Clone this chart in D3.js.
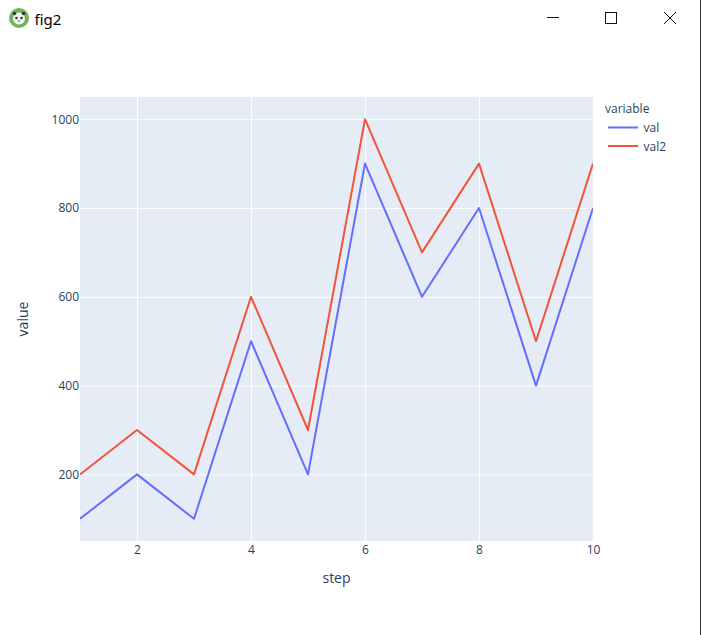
<!DOCTYPE html>
<html>
<head>
<meta charset="utf-8">
<title>fig2</title>
<script src="https://cdn.jsdelivr.net/npm/d3@7"></script>
<style>
    html, body { margin: 0; padding: 0; background: #fff; overflow: hidden; }
    text { font-family: "Open Sans", sans-serif; }
</style>
</head>
<body>
<div id="chart"></div>
<script>
const steps = [1, 2, 3, 4, 5, 6, 7, 8, 9, 10];
const val = [100, 200, 100, 500, 200, 900, 600, 800, 400, 800];
const val2 = [200, 300, 200, 600, 300, 1000, 700, 900, 500, 900];
const series_names = ["val", "val2"];
const series_colors = ["#636efa", "#EF553B"];
const x_ticks = [2, 4, 6, 8, 10];
const y_ticks = [200, 400, 600, 800, 1000];

const width = 701, height = 635;
const plot = {left: 80, right: 593, top: 97, bottom: 541};
const text_color = "#2a3f5f";

let svg = d3.select("#chart").append("svg")
    .attr("width", width)
    .attr("height", height)
    .style("display", "block");

// window frame
svg.append("line")
    .attr("x1", 700.5).attr("x2", 700.5)
    .attr("y1", 0).attr("y2", height)
    .style("stroke", "#333").style("stroke-width", 1);

// title bar icon
let icon = svg.append("g").attr("transform", "translate(19,18)");
icon.append("circle").attr("r", 10).style("fill", "#6fb35a");
icon.append("circle").attr("r", 6).attr("cy", 0.5).style("fill", "#f4f4f4");
[[-4.5, -4.5, 1.8], [4.5, -4.5, 1.8], [-2.5, 0, 1.3], [2.5, 0, 1.3], [0, 3, 0.8]].forEach(function(d) {
    icon.append("circle").attr("cx", d[0]).attr("cy", d[1]).attr("r", d[2]).style("fill", "#333");
});
svg.append("text")
    .attr("x", 34.5).attr("y", 24.5)
    .text("fig2")
    .style("font-family", "'Noto Sans', sans-serif")
    .style("font-size", "15px")
    .style("fill", "#000");

// title bar buttons
let btn = svg.append("g").style("stroke", "#111").style("stroke-width", 1).style("fill", "none");
btn.append("line").attr("x1", 547).attr("x2", 559).attr("y1", 17.5).attr("y2", 17.5);
btn.append("rect").attr("x", 605.5).attr("y", 12.5).attr("width", 11).attr("height", 11);
btn.append("line").attr("x1", 664).attr("x2", 676).attr("y1", 12).attr("y2", 24);
btn.append("line").attr("x1", 676).attr("x2", 664).attr("y1", 12).attr("y2", 24);

let x = d3.scaleLinear().domain([1, 10]).range([plot.left, plot.right]);
let y = d3.scaleLinear().domain([50, 1050]).range([plot.bottom, plot.top]);

svg.append("rect")
    .attr("x", plot.left).attr("y", plot.top)
    .attr("width", plot.right - plot.left)
    .attr("height", plot.bottom - plot.top)
    .style("fill", "#e5ecf6");

// axes, the tick lines stretched over the plot act as grid
let x_axis = svg.append("g")
    .attr("transform", "translate(0," + plot.bottom + ")")
    .call(d3.axisBottom(x).tickValues(x_ticks).tickFormat(d3.format("d")).tickSize(plot.bottom - plot.top).tickPadding(0));
x_axis.selectAll(".tick line").attr("y2", -(plot.bottom - plot.top));
x_axis.selectAll(".tick text").attr("y", 4.5);

let y_axis = svg.append("g")
    .attr("transform", "translate(" + plot.left + ",0)")
    .call(d3.axisLeft(y).tickValues(y_ticks).tickFormat(d3.format("d")).tickSize(plot.right - plot.left).tickPadding(0));
y_axis.selectAll(".tick line").attr("x2", plot.right - plot.left);
y_axis.selectAll(".tick text").attr("x", -1);

[x_axis, y_axis].forEach(function(axis) {
    axis.select(".domain").remove();
    axis.selectAll(".tick line").style("stroke", "#fff").style("stroke-width", 1);
    axis.selectAll(".tick text")
        .style("font-family", "'Open Sans', sans-serif")
        .style("font-size", "12px")
        .style("fill", text_color);
});

// lines
let line = d3.line()
    .x(function(d, i) { return x(steps[i]); })
    .y(function(d) { return y(d); });

let clip = svg.append("clipPath").attr("id", "plot_clip").append("rect")
    .attr("x", plot.left).attr("y", plot.top)
    .attr("width", plot.right - plot.left)
    .attr("height", plot.bottom - plot.top);

[val, val2].forEach(function(values, i) {
    svg.append("path")
        .datum(values)
        .attr("d", line)
        .attr("clip-path", "url(#plot_clip)")
        .style("fill", "none")
        .style("stroke", series_colors[i])
        .style("stroke-width", 2)
        .style("stroke-linejoin", "round");
});

// axis titles
svg.append("text")
    .attr("x", (plot.left + plot.right) / 2).attr("y", 583)
    .attr("text-anchor", "middle")
    .text("step")
    .style("font-size", "14px").style("fill", text_color);

svg.append("text")
    .attr("transform", "translate(28," + (plot.top + plot.bottom) / 2 + ") rotate(-90)")
    .attr("text-anchor", "middle")
    .text("value")
    .style("font-size", "14px").style("fill", text_color);

// legend
svg.append("text")
    .attr("x", 605).attr("y", 113)
    .text("variable")
    .style("font-size", "12px").style("fill", text_color);

series_names.forEach(function(name, i) {
    let row_y = 127.5 + i * 18.5;
    svg.append("line")
        .attr("x1", 608).attr("x2", 638)
        .attr("y1", row_y).attr("y2", row_y)
        .style("stroke", series_colors[i]).style("stroke-width", 2);
    svg.append("text")
        .attr("x", 643.5).attr("y", row_y + 4.5)
        .text(name)
        .style("font-size", "12px").style("fill", text_color);
});
</script>
</body>
</html>
